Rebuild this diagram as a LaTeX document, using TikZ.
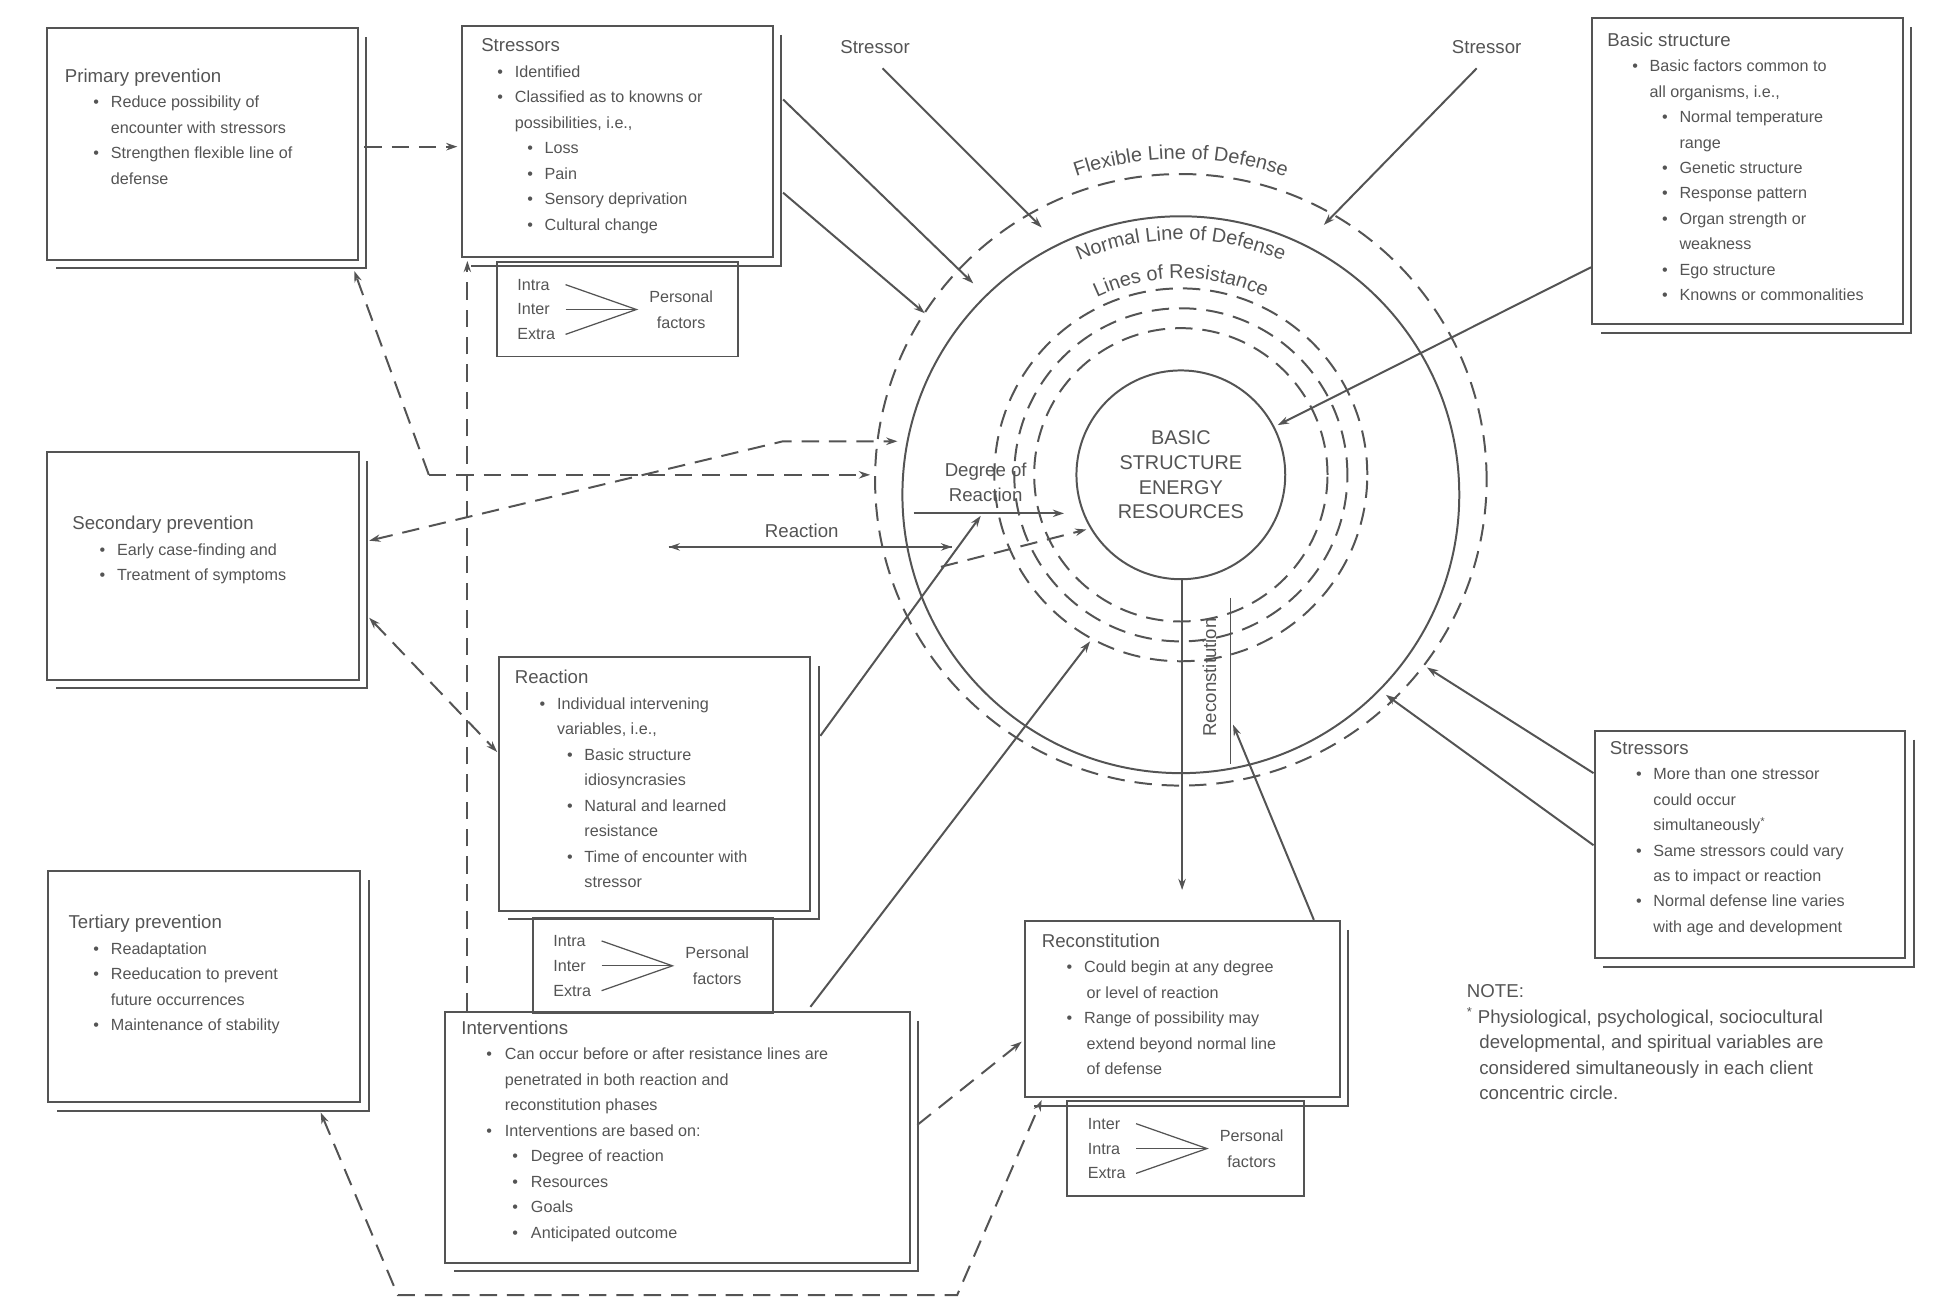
\documentclass[tikz,border=0pt]{standalone}
\usepackage{fontspec}
\setmainfont{Liberation Sans}
\usetikzlibrary{arrows.meta,decorations.text}
\definecolor{ink}{gray}{0.33}
\newcommand\li[3]{\hspace*{#1pt}\makebox[#2pt][l]{\textbullet}#3}
\newcommand\lc[2]{\hspace*{#1pt}#2}
\newcommand\ttl[1]{{\fontsize{15}{21}\selectfont #1}}
\begin{document}
\begin{tikzpicture}[x=1pt,y=-1pt,
  every node/.style={text=ink},
  box/.style={draw=ink,line width=1.6pt,inner sep=0pt,anchor=north west},
  txt/.style={anchor=north west,inner sep=0pt,align=left,font=\fontsize{13}{20.5}\selectfont},
  ln/.style={draw=ink,line width=1.6pt},
  ar/.style={ln,-{Stealth[length=9pt,width=6pt]}},
  dl/.style={ln,dash pattern=on 14pt off 8pt},
  da/.style={dl,-{Stealth[length=9pt,width=6pt]}},
  lab/.style={font=\fontsize{15}{18}\selectfont}]
\useasboundingbox (0,0) rectangle (1568,1050);
\newcommand\bx[5]{%
  \node[box,minimum width=#4pt,minimum height=#5pt] (#1) at (#2,#3) {};
  \draw[ln] ([xshift=6pt,yshift=-8pt]#1.north east) -- ([xshift=6pt,yshift=-6pt]#1.south east) -- ([xshift=8pt,yshift=-6pt]#1.south west);}
\newcommand\pf[7]{%
  \node[box,minimum width=#4pt,minimum height=76pt] (#1) at (#2,#3) {};
  \node[txt,anchor=west] (#1a) at ([xshift=17pt,yshift=-19pt]#1.north west) {#5};
  \node[txt,anchor=west] (#1b) at ([xshift=17pt,yshift=-39pt]#1.north west) {#6};
  \node[txt,anchor=west] (#1c) at ([xshift=17pt,yshift=-59pt]#1.north west) {#7};
  \coordinate (#1m) at ([xshift=113pt,yshift=-39pt]#1.north west);
  \draw[ln,line width=1pt] ([xshift=56pt,yshift=-19pt]#1.north west) -- (#1m) -- ([xshift=56pt,yshift=-59pt]#1.north west);
  \draw[ln,line width=1pt] ([xshift=56pt,yshift=-39pt]#1.north west) -- (#1m);
  \node[txt,anchor=center,align=center] (#1p) at ([xshift=149pt,yshift=-39pt]#1.north west) {Personal\\factors};}

% ---------- circles ----------
\begin{scope}[shift={(950,382)},y=1pt]
  \draw[ln] (0,0) circle[radius=84];
  \node[align=center,font=\fontsize{16}{20}\selectfont] (core) at (0,0) {BASIC\\STRUCTURE\\ENERGY\\RESOURCES};
  \draw[dl] (0,0) circle[radius=150];
  \draw[dl] (0,0) circle[radius=134];
  \draw[dl] (0,0) circle[radius=118];
  \path[decorate,decoration={text along path,text align=center,text={|\fontsize{16}{16}\selectfont\color{ink}|Lines of Resistance}}] (126:158) arc[start angle=126,end angle=54,radius=158];
\end{scope}
\begin{scope}[shift={(950,398)},y=1pt]
  \draw[ln] (0,0) circle[radius=224];
  \path[decorate,decoration={text along path,text align=center,text={|\fontsize{16}{16}\selectfont\color{ink}|Normal Line of Defense}}] (122:205) arc[start angle=122,end angle=58,radius=205];
\end{scope}
\begin{scope}[shift={(950,386)},y=1pt]
  \draw[dl] (0,0) circle[radius=246];
  \path[decorate,decoration={text along path,text align=center,text={|\fontsize{16}{16}\selectfont\color{ink}|Flexible Line of Defense}}] (120:258) arc[start angle=120,end angle=60,radius=258];
\end{scope}

% ---------- boxes ----------
\bx{pp}{37}{22}{250}{186}
\node[txt] (ppt) at (52,55) {\ttl{Primary prevention}\\
 \li{23}{14}{Reduce possibility of}\\ \lc{37}{encounter with stressors}\\
 \li{23}{14}{Strengthen flexible line of}\\ \lc{37}{defense}};

\bx{st}{371}{20}{250}{186}
\node[txt] (stt) at (387,31) {\ttl{Stressors}\\
 \li{13}{14}{Identified}\\ \li{13}{14}{Classified as to knowns or}\\ \lc{27}{possibilities, i.e.,}\\
 \li{37}{14}{Loss}\\ \li{37}{14}{Pain}\\ \li{37}{14}{Sensory deprivation}\\ \li{37}{14}{Cultural change}};
\pf{pf1}{399}{210}{194}{Intra}{Inter}{Extra}

\bx{bs}{1280}{14}{250}{246}
\node[txt] (bst) at (1293,26) {\ttl{Basic structure}\\
 \li{20}{14}{Basic factors common to}\\ \lc{34}{all organisms, i.e.,}\\
 \li{44}{14}{Normal temperature}\\ \lc{58}{range}\\ \li{44}{14}{Genetic structure}\\
 \li{44}{14}{Response pattern}\\ \li{44}{14}{Organ strength or}\\ \lc{58}{weakness}\\
 \li{44}{14}{Ego structure}\\ \li{44}{14}{Knowns or commonalities}};

\bx{sp}{37}{363}{251}{183}
\node[txt] (spt) at (58,415) {\ttl{Secondary prevention}\\
 \li{22}{14}{Early case-finding and}\\ \li{22}{14}{Treatment of symptoms}};

\bx{re}{401}{528}{250}{204}
\node[txt] (ret) at (414,539) {\ttl{Reaction}\\
 \li{20}{14}{Individual intervening}\\ \lc{34}{variables, i.e.,}\\
 \li{42}{14}{Basic structure}\\ \lc{56}{idiosyncrasies}\\
 \li{42}{14}{Natural and learned}\\ \lc{56}{resistance}\\
 \li{42}{14}{Time of encounter with}\\ \lc{56}{stressor}};
\pf{pf2}{428}{738}{193}{Intra}{Inter}{Extra}

\bx{tp}{38}{700}{251}{186}
\node[txt] (tpt) at (55,736) {\ttl{Tertiary prevention}\\
 \li{20}{14}{Readaptation}\\ \li{20}{14}{Reeducation to prevent}\\ \lc{34}{future occurrences}\\
 \li{20}{14}{Maintenance of stability}};

\bx{iv}{357}{813}{374}{202}
\node[txt] (ivt) at (371,821) {\ttl{Interventions}\\
 \li{20}{15}{Can occur before or after resistance lines are}\\ \lc{35}{penetrated in both reaction and}\\ \lc{35}{reconstitution phases}\\
 \li{20}{15}{Interventions are based on:}\\
 \li{41}{15}{Degree of reaction}\\ \li{41}{15}{Resources}\\ \li{41}{15}{Goals}\\ \li{41}{15}{Anticipated outcome}};

\bx{rc}{824}{740}{253}{142}
\node[txt] (rct) at (838,751) {\ttl{Reconstitution}\\
 \li{20}{14}{Could begin at any degree}\\ \lc{36}{or level of reaction}\\
 \li{20}{14}{Range of possibility may}\\ \lc{36}{extend beyond normal line}\\ \lc{36}{of defense}};
\pf{pf3}{858}{885}{190}{Inter}{Intra}{Extra}

\bx{sr}{1282}{587}{250}{183}
\node[txt] (srt) at (1295,596) {\ttl{Stressors}\\
 \li{21}{14}{More than one stressor}\\ \lc{35}{could occur}\\ \lc{35}{simultaneously\textsuperscript{*}}\\
 \li{21}{14}{Same stressors could vary}\\ \lc{35}{as to impact or reaction}\\
 \li{21}{14}{Normal defense line varies}\\ \lc{35}{with age and development}};

\node[txt,font=\fontsize{15}{20.5}\selectfont] (note) at (1180,792) {NOTE:\\
\textsuperscript{*} Physiological, psychological, sociocultural\\
\hspace*{10pt}developmental, and spiritual variables are\\
\hspace*{10pt}considered simultaneously in each client\\
\hspace*{10pt}concentric circle.};

% ---------- labels ----------
\node[lab] (s1) at (704,38) {Stressor};
\node[lab] (s2) at (1196,38) {Stressor};
\node[lab] (rl) at (645,427) {Reaction};
\node[lab,align=center,font=\fontsize{15}{20}\selectfont] (dr) at (793,388) {Degree of\\Reaction};
\node[lab,rotate=90,inner sep=1pt] (rcl) at (973,545) {Reconstitution};

% ---------- coordinates ----------
\coordinate (a1) at (710,55);  \coordinate (b1) at (838,183);
\coordinate (a2) at (1188,55); \coordinate (b2) at (1065,181);
\coordinate (a3) at (630,80);  \coordinate (b3) at (783,228);
\coordinate (a4) at (630,155); \coordinate (b4) at (744,252);
\coordinate (a5) at (1280,215);\coordinate (b5) at (1028,342);
\coordinate (a6) at (1282,622);\coordinate (b6) at (1148,537);
\coordinate (a7) at (1282,680);\coordinate (b7) at (1115,559);
\coordinate (a8) at (538,440); \coordinate (b8) at (766,440);
\coordinate (a9) at (735,413); \coordinate (b9) at (856,413);
\coordinate (a10) at (660,592);\coordinate (b10) at (789,415);
\coordinate (a11) at (652,810);\coordinate (b11) at (877,516);
\coordinate (a12) at (1057,740);\coordinate (b12) at (992,583);
\coordinate (a13) at (951,466);\coordinate (b13) at (951,716);
\coordinate (a14) at (990,481);\coordinate (b14) at (990,615);
\coordinate (d1a) at (293,118); \coordinate (d1b) at (368,118);
\coordinate (d2k) at (345,382); \coordinate (d2a) at (285,218); \coordinate (d2b) at (700,382);
\coordinate (d3a) at (297,435); \coordinate (d3k) at (630,355); \coordinate (d3b) at (722,355);
\coordinate (d4a) at (297,497); \coordinate (d4b) at (400,605);
\coordinate (d5a) at (376,813); \coordinate (d5b) at (376,210);
\coordinate (d6a) at (258,895); \coordinate (d6k) at (320,1042); \coordinate (d6l) at (770,1042); \coordinate (d6b) at (838,885);
\coordinate (d7a) at (738,905); \coordinate (d7b) at (822,838);
\coordinate (d8a) at (757,456); \coordinate (d8b) at (874,426);

% ---------- connectors ----------
\foreach \i in {1,...,12} {\draw[ar] (a\i) -- (b\i);}
\draw[ar,{Stealth[length=9pt,width=6pt]}-] (a8) -- (b8);
\draw[ln,line width=1pt] (a14) -- (b14);
\draw[ar] (a13) -- (b13);
\draw[da] (d1a) -- (d1b);
\draw[da] (d2k) -- (d2a);
\draw[da] (d2k) -- (d2b);
\draw[da,{Stealth[length=9pt,width=6pt]}-{Stealth[length=9pt,width=6pt]}] (d3a) -- (d3k) -- (d3b);
\draw[da,{Stealth[length=9pt,width=6pt]}-{Stealth[length=9pt,width=6pt]}] (d4a) -- (d4b);
\draw[da] (d5a) -- (d5b);
\draw[da,{Stealth[length=9pt,width=6pt]}-{Stealth[length=9pt,width=6pt]}] (d6a) -- (d6k) -- (d6l) -- (d6b);
\draw[da] (d7a) -- (d7b);
\draw[da] (d8a) -- (d8b);
\end{tikzpicture}
\end{document}
